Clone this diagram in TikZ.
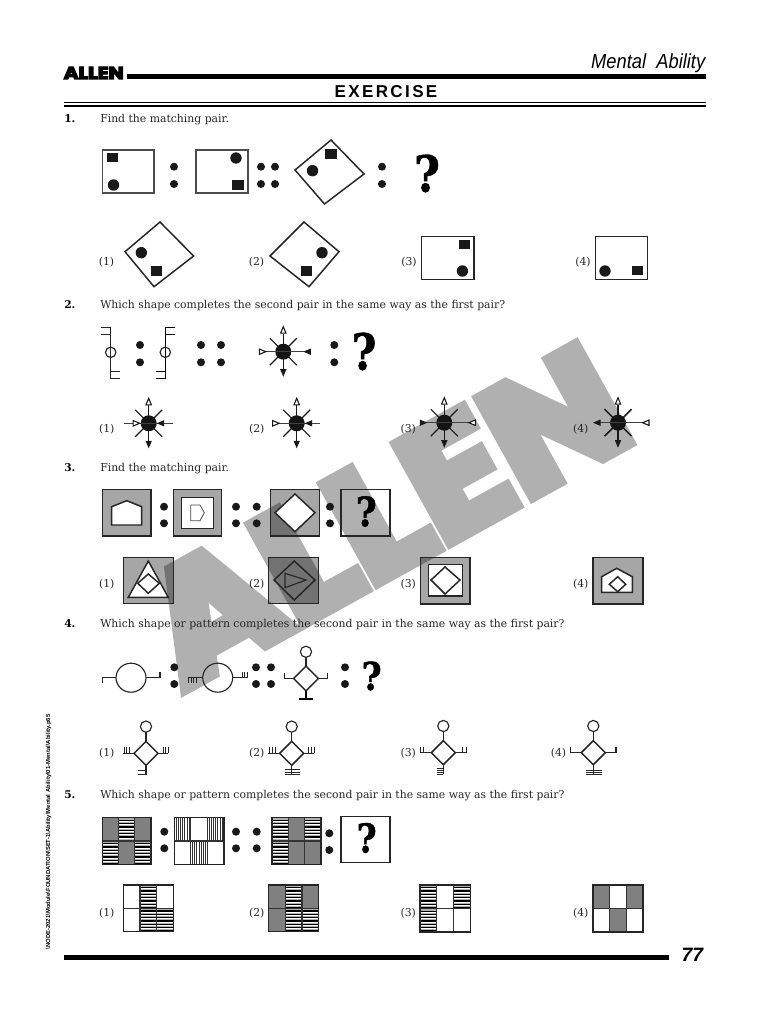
\documentclass[tikz,border=0pt]{standalone}
\usepackage{fontspec}
\usepackage{graphicx}
\setmainfont{DejaVu Serif}
\newfontfamily\wmfont[FakeBold=7]{Poppins Bold}
\newfontfamily\exfont[LetterSpace=14]{Liberation Sans}
\newfontfamily\lsans{Liberation Sans}
\newfontfamily\qmfont[FakeBold=1.2]{DejaVu Serif Bold}
\definecolor{dkgray}{gray}{0.5}
\definecolor{wmgray}{gray}{0.69}
\tikzset{
  body/.style={inner sep=0pt,font=\fontsize{8.13pt}{10pt}\selectfont,text=black!85},
  linebox/.style={draw=black!85,line width=1.1pt},
  graybox/.style={draw=black!85,line width=1.1pt,fill=black,fill opacity=0.35},
  thinl/.style={draw=black!85,line width=0.85pt},
  comb/.style={draw=black!85,line width=0.6pt},
  hair/.style={draw=black!70,line width=0.6pt},
  heavy/.style={draw=black,line width=1.2pt},
}
% colon of two dots
\newcommand\dotp[3]{\fill[black!90] (#1,#2) circle[radius=4] (#1,#3) circle[radius=4];}
\newcommand\blob[2]{\fill[black!90] (#1,#2) circle[radius=5.7];}
\newcommand\sqr[4]{\fill[black!90] (#1,#2) rectangle (#3,#4);}
\newcommand\lab[4]{\node[body,anchor=base] (#1) at (#2,#3) {#4};}
\newcommand\qtext[3]{\node[body,anchor=base west] (#1) at (100,#2) {#3};}
\newcommand\qnum[3]{\node[inner sep=0pt,anchor=base west,font=\fontsize{8pt}{10pt}\selectfont\bfseries] (#1) at (64,#2) {#3};}
% question mark: name, centre x, centre y, width, height (px)
\newcommand\qmark[5]{\node[inner sep=0pt,anchor=center] (#1) at (#2,#3) {\resizebox{\dimexpr#4pt*3/4\relax}{\dimexpr#5pt*3/4\relax}{\qmfont ?}};}
% arrow tips, apex at (x,y) pointing along angle
\newcommand\tipb[3]{\fill[black!90,shift={(#1,#2)},rotate=#3] (0,0)--(-7.5,-3.2)--(-7.5,3.2)--cycle;}
\newcommand\tipo[3]{\filldraw[fill=white,draw=black!90,line width=0.8pt,shift={(#1,#2)},rotate=#3] (0,0)--(-6.5,-2.7)--(-6.5,2.7)--cycle;}
% sun body with vertical arrows, drawn around the origin of a scope
\newcommand\sunbody[1]{
  \foreach \sx/\sy in {13.5/13.5,-13.5/13.5,13.5/-13.5,-13.5/-13.5}
    \draw[draw=black!90,line width=#1] (0,0)--(\sx,\sy);
  \draw[draw=black!90,line width=#1] (0,0)--(0,-18) (0,0)--(0,20);
  \tipo{0}{-25}{90}
  \tipb{0}{25}{-90}
  \fill[black!92] (0,0) circle[radius=8];
}
\newcommand\harm[2]{\draw[draw=black!75,line width=1pt] (#1,0)--(#2,0);}
% Q4 figure: diamond with head circle, around scope origin
\newcommand\qfig[1]{
  \draw[linebox] (0,-#1)--(#1,0)--(0,#1)--(-#1,0)--cycle;
  \draw[thinl,line width=0.9pt] (0,-#1)--(0,-21);
  \draw[thinl] (0,-26.7) circle[radius=5.6];
}
% stripe cells
\newcommand\cellg[4]{\fill[dkgray] (#1,#2) rectangle ++(#3,#4);}
\newcommand\cellw[4]{\fill[white] (#1,#2) rectangle ++(#3,#4);}
\newcommand\cellh[4]{\begin{scope}
  \clip (#1,#2) rectangle ++(#3,#4);
  \fill[black!30] (#1,#2) rectangle ++(#3,#4);
  \foreach \kk in {1,...,7}{\fill[black] (#1,#2+\kk*3.3-1.3) rectangle ++(#3,1.3);
    \fill[white] (#1,#2+\kk*3.3) rectangle ++(#3,1);}
  \end{scope}}
\newcommand\cellv[4]{\begin{scope}
  \clip (#1,#2) rectangle ++(#3,#4);
  \fill[white] (#1,#2) rectangle ++(#3,#4);
  \foreach \kk in {1,...,7}{\fill[black!80] (#1+\kk*2.2-1,#2) rectangle ++(1,#4);}
  \end{scope}}
\newcommand\qgrid[5]{
  \pgfmathsetmacro\gw{(#3-#1)/3}
  \pgfmathsetmacro\gh{(#4-#2)/2}
  \foreach \ctype [count=\ci from 0] in {#5}{
    \pgfmathtruncatemacro\ccol{mod(\ci,3)}
    \pgfmathtruncatemacro\crow{\ci/3}
    \pgfmathsetmacro\ccx{#1+\ccol*\gw}
    \pgfmathsetmacro\ccy{#2+\crow*\gh}
    \csname cell\ctype\endcsname{\ccx}{\ccy}{\gw}{\gh}
    \draw[draw=black!80,line width=0.9pt] (\ccx,\ccy) rectangle ++(\gw,\gh);
  }
  \draw[linebox] (#1,#2) rectangle (#3,#4);
}
\begin{document}
\begin{tikzpicture}[x=0.75pt,y=-0.75pt]
\useasboundingbox (0,0) rectangle (768,1024);
\fill[white] (0,0) rectangle (768,1024);
% watermark, under everything; gray fills above are translucent
\node[inner sep=0pt,rotate=29,anchor=center,text=wmgray] (wm) at (384,515) {\resizebox{390pt}{84pt}{\wmfont ALLEN}};
% header
\node[inner sep=0pt,anchor=base west] (logo) at (63.5,79) {\resizebox{45pt}{9pt}{\wmfont ALLEN}};
\fill[black] (127,74.5) rectangle (706,79);
\node[inner sep=0pt,anchor=base east,font=\lsans\itshape\fontsize{15.3pt}{16pt}\selectfont] (title) at (705.5,68.5) {\resizebox{85.5pt}{\height}{Mental\ \ Ability}};
\node[inner sep=0pt,anchor=base] (ex) at (386,97) {\resizebox{77pt}{9pt}{\exfont\bfseries EXERCISE}};
\fill[black] (63.5,102) rectangle (706,103.2);
\fill[black] (63.5,105) rectangle (706,107.4);
% Q1
\qnum{n1}{122.5}{1.}
\qtext{t1}{122.5}{Find the matching pair.}
\draw[linebox,draw=black!70] (102.3,150) rectangle (154,193);
\sqr{106.5}{153}{118}{162} \blob{113.5}{185}
\dotp{174}{166.7}{184}
\draw[linebox,draw=black!70] (196,150) rectangle (248,193);
\blob{236}{158} \sqr{232}{180}{244}{190}
\dotp{261}{166.7}{184} \dotp{275}{166.7}{184}
\draw[linebox] (331,140)--(364,174)--(324.5,204)--(295,170)--cycle;
\sqr{324.7}{149}{336.5}{158.7} \blob{312.5}{170.7}
\dotp{382}{166.7}{184}
\qmark{q1}{427}{173.5}{26}{37}
\lab{a1}{106.5}{265}{(1)}
\draw[linebox] (160,222)--(193.6,256)--(154,286.7)--(125,251.7)--cycle;
\blob{141.3}{252.7} \sqr{150.7}{266}{162}{276}
\lab{a2}{256.5}{265}{(2)}
\draw[linebox] (304,222)--(339,251.7)--(309,286.7)--(270,256)--cycle;
\blob{322}{252.7} \sqr{300.5}{266}{312}{276}
\lab{a3}{409}{265}{(3)}
\draw[linebox] (421.6,236.7) rectangle (474,279.3);
\sqr{458.5}{240}{470}{249} \blob{462.4}{271}
\lab{a4}{583}{265}{(4)}
\draw[linebox] (595.6,236.7) rectangle (647.5,279.3);
\blob{605}{271} \sqr{632}{265.7}{643}{275}
% Q2
\qnum{n2}{308}{2.}
\qtext{t2}{308}{Which shape completes the second pair in the same way as the first pair?}
\draw[thinl] (101,327.7)--(110.3,327.7)--(110.3,378.3)--(120,378.3) (101,334.3)--(110.3,334.3) (110.3,371.7)--(120,371.7);
\draw[thinl] (110.7,352.3) circle[radius=5.2];
\dotp{140}{345}{362.3}
\draw[heavy,line width=1pt] (175.3,327.7)--(165.3,327.7)--(165.3,378.3)--(156,378.3) (175.3,334.3)--(165.3,334.3) (165.3,371.7)--(156,371.7);
\draw[thinl] (165.3,352.3) circle[radius=5.2];
\dotp{201}{345}{362.3} \dotp{221}{345}{362.3}
\begin{scope}[shift={(283.3,351.7)}]
  \sunbody{0.9pt} \harm{-18}{0} \harm{0}{21}
  \tipo{-17.5}{0}{0} \tipb{20}{0}{180}
\end{scope}
\dotp{334.3}{345}{362.3}
\qmark{q2}{364}{351.5}{25}{37}
\lab{b1}{106.7}{432}{(1)}
\begin{scope}[shift={(148.7,423.3)}]
  \sunbody{0.9pt} \harm{-25}{0} \harm{0}{24}
  \tipo{-9}{0}{0} \tipb{8}{0}{180}
\end{scope}
\lab{b2}{256.7}{432}{(2)}
\begin{scope}[shift={(296.7,423.3)}]
  \sunbody{0.9pt} \harm{-18}{0} \harm{0}{23.5}
  \tipo{-17.5}{0}{0} \tipb{8}{0}{180}
\end{scope}
\lab{b3}{408.3}{432}{(3)}
\begin{scope}[shift={(444.3,422.7)}]
  \sunbody{0.9pt} \harm{-18}{0} \harm{0}{25}
  \tipb{-17}{0}{0} \tipo{24.5}{0}{180}
\end{scope}
\lab{b4}{580.7}{432}{(4)}
\begin{scope}[shift={(618,422.7)}]
  \sunbody{1.1pt} \harm{-18}{0} \harm{0}{25}
  \tipb{-25}{0}{180} \tipo{24.5}{0}{180}
\end{scope}
% Q3
\qnum{n3}{471}{3.}
\qtext{t3}{471}{Find the matching pair.}
\filldraw[graybox] (102.3,489.3) rectangle (151,536);
\filldraw[linebox,fill=white] (111.7,506.7)--(126.7,500.7)--(141.7,506.7)--(141.7,525)--(111.7,525)--cycle;
\dotp{164}{506.7}{523.3}
\filldraw[graybox] (173.3,489.3) rectangle (221.7,536);
\filldraw[linebox,fill=white] (181.7,497.7) rectangle (213.3,528.3);
\draw[hair] (190.7,505)--(200,505)--(204.3,512.7)--(200,520.7)--(190.7,520.7)--cycle;
\dotp{236}{506.7}{523.3} \dotp{256.7}{506.7}{523.3}
\filldraw[graybox] (270.3,489.3) rectangle (319.3,536);
\filldraw[linebox,fill=white] (295,494)--(315,512.7)--(295,531.7)--(275,512.7)--cycle;
\dotp{330}{506.7}{523.3}
\draw[linebox] (341,489.3) rectangle (390,536);
\qmark{q3}{366.3}{511.5}{21}{30}
\lab{c1}{106.7}{587}{(1)}
\filldraw[graybox] (123.3,557.3) rectangle (173.3,603.3);
\filldraw[linebox,fill=white] (148.3,561)--(168.3,597.3)--(128.3,597.3)--cycle;
\draw[linebox] (148.3,574)--(159.3,583.3)--(148.3,593.3)--(137.7,583.3)--cycle;
\lab{c2}{256.7}{587}{(2)}
\filldraw[graybox] (268.7,557.3) rectangle (318.7,603.3);
\draw[linebox] (294.3,561)--(315,580)--(294.3,600)--(274,580)--cycle;
\draw[thinl] (285,573.3)--(306,580)--(285,587.7)--cycle;
\lab{c3}{408.3}{587}{(3)}
\filldraw[graybox] (420.3,557.3) rectangle (470,604);
\filldraw[linebox,fill=white] (428.3,564.3) rectangle (462.3,596);
\draw[linebox] (445,567)--(460,580)--(445,594)--(431,580)--cycle;
\lab{c4}{580.7}{587}{(4)}
\filldraw[graybox] (593,557.3) rectangle (643,604);
\filldraw[linebox,fill=white] (601.7,576.7)--(616.7,568.3)--(632.3,576.7)--(632.3,592.3)--(601.7,592.3)--cycle;
\draw[linebox] (617.7,576.7)--(625.7,584.3)--(617.7,591.7)--(609.3,584.3)--cycle;
% Q4
\qnum{n4}{627}{4.}
\qtext{t4}{627}{Which shape or pattern completes the second pair in the same way as the first pair?}
\draw[thinl] (131,677.7) ellipse[x radius=15,y radius=14.5];
\draw[thinl] (102.7,682.7)--(102.7,677.3)--(116,677.3) (146,677.3)--(160,677.3)--(160,672.3);
\dotp{174.3}{667.3}{684}
\draw[thinl] (217.7,677.7) ellipse[x radius=15,y radius=14.5];
\draw[thinl] (188.3,677.3)--(202.7,677.3) (232.7,677.3)--(247.7,677.3);
\draw[comb] (188.8,677.3)--(188.8,682.5) (191.3,677.3)--(191.3,682.5) (193.8,677.3)--(193.8,682.5) (196.3,677.3)--(196.3,682.5);
\draw[comb] (242,677.3)--(242,672.3) (244.8,677.3)--(244.8,672.3) (247.5,677.3)--(247.5,672.3);
\dotp{256}{667.3}{684} \dotp{271}{667.3}{684}
\begin{scope}[shift={(306,678.5)}]
  \qfig{12.3}
  \draw[thinl] (-12.3,0)--(-21.7,0)--(-21.7,-5.5) (12.3,0)--(21.7,0)--(21.7,-5.5);
  \draw[heavy] (0,12.3)--(0,20.5) (-7,20.5)--(7,20.5);
\end{scope}
\dotp{345}{667.3}{684}
\qmark{q4}{371.7}{676}{20}{28.5}
\lab{d1}{106.7}{756}{(1)}
\begin{scope}[shift={(146,753.3)}]
  \qfig{12}
  \draw[thinl] (-12,0)--(-22.7,0) (12,0)--(22.3,0) (0,12)--(0,21.5);
  \draw[comb] (-22,0)--(-22,-6) (-19.3,0)--(-19.3,-6) (-16.7,0)--(-16.7,-6);
  \draw[comb] (17,0)--(17,-6) (19.7,0)--(19.7,-6) (22,0)--(22,-6);
  \draw[thinl] (-7.7,17.4)--(0,17.4) (-7.7,21.4)--(0,21.4);
\end{scope}
\lab{d2}{256.7}{756}{(2)}
\begin{scope}[shift={(291.7,753.3)}]
  \qfig{12}
  \draw[thinl] (-12,0)--(-23.4,0) (12,0)--(22.6,0) (0,12)--(0,21.5);
  \draw[comb] (-22.4,0)--(-22.4,-6) (-19.7,0)--(-19.7,-6) (-16.7,0)--(-16.7,-6);
  \draw[comb] (16.6,0)--(16.6,-6) (19.6,0)--(19.6,-6) (22.6,0)--(22.6,-6);
  \draw[comb] (-7,16)--(8,16) (-7,18.7)--(8,18.7) (-7,21.4)--(8,21.4);
\end{scope}
\lab{d3}{408.3}{756}{(3)}
\begin{scope}[shift={(443.3,752.7)}]
  \qfig{12}
  \draw[thinl] (-12,0)--(-22.6,0) (12,0)--(22.7,0) (0,12)--(0,21.5);
  \draw[comb] (-22.6,0)--(-22.6,-6) (-20,0)--(-20,-6);
  \draw[comb] (19.4,0)--(19.4,-6) (22.7,0)--(22.7,-6);
  \draw[comb] (-6.6,15.6)--(0,15.6) (-6.6,17.6)--(0,17.6) (-6.6,19.6)--(0,19.6) (-6.6,21.6)--(0,21.6);
\end{scope}
\lab{d4}{558.5}{756}{(4)}
\begin{scope}[shift={(593.3,752.7)}]
  \qfig{12}
  \draw[thinl] (-12,0)--(-22.6,0)--(-22.6,-6) (12,0)--(22.7,0)--(22.7,-6) (0,12)--(0,22);
  \draw[comb] (-7.3,17.3)--(8.4,17.3) (-7.3,19.6)--(8.4,19.6) (-7.3,22)--(8.4,22);
\end{scope}
% Q5
\qnum{n5}{798}{5.}
\qtext{t5}{798}{Which shape or pattern completes the second pair in the same way as the first pair?}
\qgrid{102.3}{817.7}{151}{864.3}{g,h,g,h,g,h}
\dotp{164.3}{831.7}{848.3}
\qgrid{174.3}{817.7}{224}{864.3}{v,w,v,w,v,w}
\dotp{236}{831.7}{848.3} \dotp{256.7}{831.7}{848.3}
\qgrid{272}{817.7}{321}{864.3}{h,g,h,h,g,g}
\dotp{329.3}{833.3}{850}
\filldraw[linebox,fill=white] (341,816.7) rectangle (390,862.3);
\qmark{q5}{366.7}{838}{20}{29.5}
\lab{e1}{106.7}{916}{(1)}
\qgrid{123.3}{885}{173.3}{931.7}{w,h,w,w,h,h}
\lab{e2}{256.7}{916}{(2)}
\qgrid{268.7}{885}{318.7}{931.7}{g,h,g,g,h,h}
\lab{e3}{408.3}{916}{(3)}
\qgrid{420}{885}{470.3}{932}{h,w,h,h,w,w}
\lab{e4}{580.7}{916}{(4)}
\qgrid{593}{885}{643}{932}{g,w,g,w,g,w}
% footer
\fill[black] (64,955) rectangle (669,960);
\node[inner sep=0pt,anchor=base east,font=\lsans\bfseries\itshape\fontsize{14.5pt}{16pt}\selectfont] (page) at (703.5,961) {77};
\node[inner sep=0pt,rotate=90,anchor=center] (side) at (48.5,832) {\resizebox{176pt}{!}{\lsans\bfseries\textbackslash NODE-2021\textbackslash Module\textbackslash FOUNDATION\textbackslash SET-1\textbackslash Ability\textbackslash Mental Ability\textbackslash 01-Mental\textbackslash Ability.p65}};
\end{tikzpicture}
\end{document}
